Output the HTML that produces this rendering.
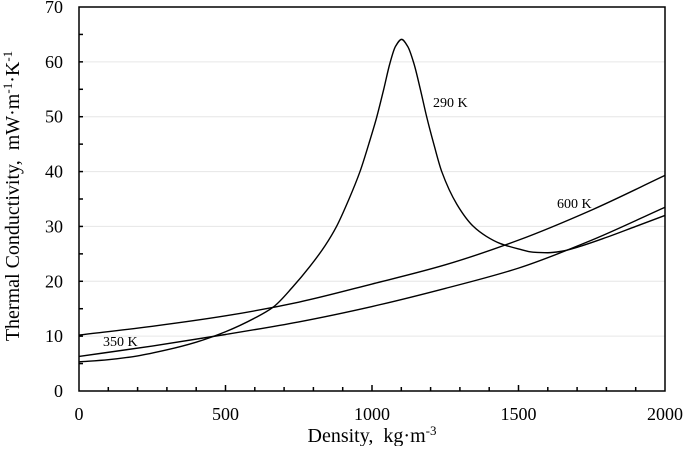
<!DOCTYPE html>
<html><head><meta charset="utf-8"><style>
body{margin:0;background:#fff}
svg text{font-family:"Liberation Serif",serif;fill:#000}
</style></head><body>
<svg id="chart" width="685" height="446" xmlns="http://www.w3.org/2000/svg">
<g id="grid"></g>
<g id="series"></g>
<g id="axes"></g>
<text x="433" y="107" font-size="14">290 K</text>
<text x="557" y="208" font-size="14">600 K</text>
<text x="103" y="346" font-size="14">350 K</text>
<text x="372" y="442" font-size="20" text-anchor="middle" xml:space="preserve">Density,  kg·m<tspan dy="-7" font-size="13">-3</tspan></text>
<text transform="translate(19,196) rotate(-90)" font-size="20" text-anchor="middle" xml:space="preserve">Thermal Conductivity,  mW·m<tspan dy="-7" font-size="13">-1</tspan><tspan dy="7">·K</tspan><tspan dy="-7" font-size="13">-1</tspan></text>
</svg>
<script>
const xTicks=[0,500,1000,1500,2000];
const yTicks=[0,10,20,30,40,50,60,70];
const d290=[0,100,200,300,400,500,600,663,730,788,840,879,920,959,990,1016,1040,1061,1080,1101,1122,1143,1165,1187,1212,1238,1290,1346,1390,1437,1500,1550,1600,1650,1700,1800,1900,2000];
const k290=[5.3,5.7,6.4,7.5,8.9,10.8,13.3,15.3,19.0,22.7,26.5,30,34.8,40,45.2,49.9,55,59.7,62.8,64.1,62.8,59.7,55,49.9,44.8,40,34,30,28.2,26.9,25.9,25.3,25.2,25.5,26.2,28,30,32];
const d350=[0,250,500,750,1000,1250,1500,1750,2000];
const k350=[6.3,8.2,10.3,12.6,15.4,18.7,22.4,27.5,33.5];
const d600=[0,250,500,750,1000,1250,1500,1750,2000];
const k600=[10.2,11.8,13.7,16.2,19.5,23,27.5,33,39.3];
const X0=79,X1=665,Y0=391,Y1=7;
const xs=v=>X0+(v-0)/2000*(X1-X0);
const ys=v=>Y0-(v/70)*(Y0-Y1);
const NS="http://www.w3.org/2000/svg";
function mk(t,a,p){const e=document.createElementNS(NS,t);for(const k in a)e.setAttribute(k,a[k]);p.appendChild(e);return e;}
const grid=document.getElementById('grid'),axes=document.getElementById('axes'),ser=document.getElementById('series');
yTicks.forEach(v=>{if(v>0&&v<70){const l=mk('line',{x1:X0,x2:X1,y1:ys(v),y2:ys(v),stroke:'#e6e6e6','stroke-width':1},grid);

}
const t=mk('text',{x:X0-16,y:ys(v)+6,'font-size':18,'text-anchor':'end'},axes);t.textContent=v;

});
for(let v=5;v<70;v+=5){mk('line',{x1:X0,x2:X0+4,y1:ys(v),y2:ys(v),stroke:'#000','stroke-width':1.5},axes);}
for(let v=100;v<2000;v+=100){mk('line',{x1:xs(v),x2:xs(v),y1:Y0,y2:Y0-(v%500?4:6),stroke:'#000','stroke-width':1.5},axes);}
xTicks.forEach(v=>{const t=mk('text',{x:xs(v),y:Y0+29,'font-size':18,'text-anchor':'middle'},axes);t.textContent=v;

});
const fr=mk('rect',{x:X0,y:Y1,width:X1-X0,height:Y0-Y1,fill:'none',stroke:'#000','stroke-width':1.5},axes);


function path(ds,ks){
  const x=ds.map(xs),y=ks.map(ys),n=x.length;
  const dl=[],m=[];
  for(let i=0;i<n-1;i++)dl.push((y[i+1]-y[i])/(x[i+1]-x[i]));
  m[0]=dl[0];m[n-1]=dl[n-2];
  for(let i=1;i<n-1;i++){
    if(dl[i-1]*dl[i]<=0)m[i]=0;
    else{const h0=x[i]-x[i-1],h1=x[i+1]-x[i],w1=2*h1+h0,w2=h1+2*h0;m[i]=(w1+w2)/(w1/dl[i-1]+w2/dl[i]);}
  }
  let s='M'+x[0]+','+y[0];
  for(let i=0;i<n-1;i++){const h=(x[i+1]-x[i])/3;
    s+=' C'+(x[i]+h)+','+(y[i]+m[i]*h)+' '+(x[i+1]-h)+','+(y[i+1]-m[i+1]*h)+' '+x[i+1]+','+y[i+1];}
  return s;}
[[d290,k290,'line-290k'],[d350,k350,'line-350k'],[d600,k600,'line-600k']].forEach(([d,k,n])=>{
const e=mk('path',{d:path(d,k),fill:'none',stroke:'#000','stroke-width':1.4},ser);

});
</script>
</body></html>
